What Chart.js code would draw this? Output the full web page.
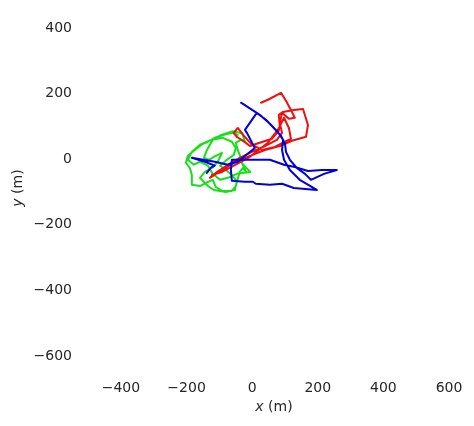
<!DOCTYPE html>
<html>
<head>
<meta charset="utf-8">
<script src="https://cdn.jsdelivr.net/npm/chart.js@4/dist/chart.umd.min.js"></script>
<style>
html,body{margin:0;padding:0;background:#fff;}
canvas{display:block;}
</style>
</head>
<body>
<canvas id="c" width="474" height="426"></canvas>
<script>
// Tick labels
const xTicks = [-400, -200, 0, 200, 400, 600];
const yTicks = [400, 200, 0, -200, -400, -600];

// Red trajectory
const redX = [27,48,88,103,118,130,112,91,84,91,75,39,-1,-38,-74,-111,-129,-92,-50,-7,39,84,121,164,170,155,127,94,81,84,81,60,23,-7,-28,-47,-56,-44,-25,-1,30,69,106,118,112,97,78,48,-7,-50,-92,-123];
const redY = [166,175,196,172,144,120,117,135,105,74,53,34,16,-2,-23,-48,-63,-39,-14,4,22,34,50,62,98,147,144,138,129,98,80,56,44,34,50,62,74,89,65,38,22,31,50,56,89,120,83,44,1,-23,-45,-54];

// Blue trajectory
const blueX = [-34,14,42,66,88,100,103,115,136,161,179,219,258,213,170,130,97,54,8,-22,-62,-65,-62,-22,2,11,54,91,127,197,145,115,97,91,94,78,54,23,14,-22,-16,8,-7,-44,-74,-114,-184,-144,-114,-126,-138];
const blueY = [166,135,114,89,65,41,16,-8,-33,-51,-69,-51,-39,-39,-42,-30,-23,-8,-8,-8,-8,-39,-72,-75,-75,-81,-84,-81,-94,-100,-69,-39,-8,22,53,77,102,129,135,83,74,28,16,-14,-23,-14,-2,-14,-26,-32,-48];

// Green trajectory
const greenX = [-44,-62,-86,-114,-135,-150,-175,-196,-202,-190,-184,-184,-159,-141,-120,-111,-92,-62,-50,-44,-38,-28,-19,-31,-38,-44,-50,-34,-22,-31,-59,-94,-120,-138,-147,-132,-111,-92,-105,-123,-144,-159,-135,-117,-80,-53,-47,-59,-80,-98,-77,-56,-50,-62,-89,-123,-159,-184,-196,-178,-159,-135,-120,-98,-74,-45,-6,-30];
const greenY = [68,74,68,59,47,41,22,4,-17,-33,-54,-84,-88,-78,-69,-91,-103,-103,-88,-66,-45,-33,-45,-17,7,22,44,53,47,73,79,68,53,22,-2,-8,4,13,-14,-33,-45,-63,-88,-100,-106,-100,-75,-57,-39,-26,-8,7,28,47,59,53,38,16,-8,-23,-14,-26,-51,-69,-63,-50,-45,-20];

function pts(xs, ys){ return xs.map((x,i)=>({x:x, y:ys[i]})); }

const FONT = 'DejaVu Sans';
const TXT = '#262626';

const axisTitles = {
  id:'axisTitles',
  afterDraw(chart){
    const ctx = chart.ctx;
    const ca = chart.chartArea;
    function drawMixed(v, cx, cy, rot){
      ctx.save();
      ctx.fillStyle = TXT;
      ctx.textBaseline = 'middle';
      ctx.translate(cx, cy);
      ctx.rotate(rot);
      ctx.font = 'italic 14px "' + FONT + '"';
      const a = ctx.measureText(v).width;
      ctx.font = '14px "' + FONT + '"';
      const b = ctx.measureText(' (m)').width;
      const start = -(a+b)/2;
      ctx.textAlign = 'left';
      ctx.font = 'italic 14px "' + FONT + '"';
      ctx.fillText(v, start, 0);
      ctx.font = '14px "' + FONT + '"';
      ctx.fillText(' (m)', start + a, 0);
      ctx.restore();
    }
    drawMixed('x', (ca.left+ca.right)/2, 407, 0);
    drawMixed('y', 18, (ca.top+ca.bottom)/2, -Math.PI/2);
  }
};

const fmt = v => (v < 0 ? '\u2212' + Math.abs(v) : String(v));

new Chart(document.getElementById('c'), {
  type: 'scatter',
  data: {
    datasets: [
      {data: pts(blueX, blueY), borderColor:'#0000dd', showLine:true, pointRadius:0, borderWidth:2, order:0, borderJoinStyle:'round', borderCapStyle:'round'},
      {data: pts(redX, redY), borderColor:'#ee0f0f', showLine:true, pointRadius:0, borderWidth:2, order:1, borderJoinStyle:'round', borderCapStyle:'round'},
      {data: pts(greenX, greenY), borderColor:'#18e018', showLine:true, pointRadius:0, borderWidth:2, order:2, borderJoinStyle:'round', borderCapStyle:'round'}
    ]
  },
  options: {
    responsive:false,
    animation:false,
    devicePixelRatio:1,
    layout:{padding:{top:2,right:3,left:0,bottom:0}},
    plugins:{legend:{display:false}, tooltip:{enabled:false}},
    scales:{
      x:{
        type:'linear', min:-534, max:667,
        grid:{display:false, drawTicks:false}, border:{display:false},
        afterBuildTicks(s){ s.ticks = xTicks.map(v=>({value:v})); },
        afterFit(s){ s.height = 52; s.paddingLeft = 0; s.paddingRight = 0; },
        ticks:{padding:6, color:TXT, font:{family:FONT, size:14}, maxRotation:0, autoSkip:false, callback:fmt}
      },
      y:{
        type:'linear', min:-661, max:473,
        grid:{display:false, drawTicks:false}, border:{display:false},
        afterBuildTicks(s){ s.ticks = yTicks.map(v=>({value:v})); },
        afterFit(s){ s.width = 77; s.paddingTop = 0; s.paddingBottom = 0; },
        ticks:{padding:5, labelOffset:2, color:TXT, font:{family:FONT, size:14}, autoSkip:false, callback:fmt}
      }
    }
  },
  plugins:[axisTitles]
});
</script>
</body>
</html>
